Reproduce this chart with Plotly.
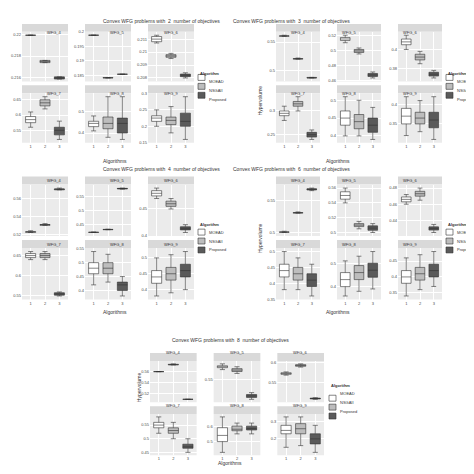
import plotly.graph_objects as go

W = 474
algorithms = ["MOEAD", "NSGAII", "Proposed"]
colors = ["#ffffff", "#bdbdbd", "#5a5a5a"]
facets = ["WFG_4", "WFG_5", "WFG_6", "WFG_7", "WFG_8", "WFG_9"]
titles = ["Convex WFG problems with  2  number of objectives",
          "Convex WFG problems with  3  number of objectives",
          "Convex WFG problems with  4  number of objectives",
          "Convex WFG problems with  6  number of objectives",
          "Convex WFG problems with  8  number of objectives"]

# stats per facet: (lower, q1, median, q3, upper) for MOEAD, NSGAII, Proposed
obj2 = [
    [(0.2199, 0.2199, 0.2199, 0.2199, 0.2199), (0.2175, 0.2174, 0.2175, 0.2176, 0.2176), (0.2160, 0.2159, 0.2160, 0.2161, 0.2161)],
    [(0.1989, 0.1989, 0.1989, 0.1989, 0.1989), (0.1840, 0.1840, 0.1841, 0.1841, 0.1841), (0.1853, 0.1853, 0.1853, 0.1853, 0.1853)],
    [(0.2107, 0.2108, 0.2110, 0.2112, 0.2113), (0.2095, 0.2096, 0.2097, 0.2098, 0.2099), (0.2080, 0.2081, 0.2082, 0.2083, 0.2084)],
    [(0.56, 0.575, 0.585, 0.595, 0.61), (0.62, 0.63, 0.64, 0.65, 0.66), (0.52, 0.535, 0.55, 0.56, 0.58)],
    [(0.41, 0.43, 0.445, 0.455, 0.48), (0.38, 0.42, 0.445, 0.475, 0.57), (0.37, 0.40, 0.445, 0.47, 0.57)],
    [(0.20, 0.215, 0.225, 0.232, 0.25), (0.18, 0.205, 0.218, 0.228, 0.26), (0.16, 0.20, 0.215, 0.24, 0.29)],
]
obj3 = [
    [(0.560, 0.560, 0.561, 0.561, 0.562), (0.520, 0.520, 0.521, 0.521, 0.522), (0.487, 0.487, 0.487, 0.488, 0.488)],
    [(0.510, 0.513, 0.515, 0.517, 0.520), (0.495, 0.497, 0.499, 0.501, 0.503), (0.463, 0.465, 0.467, 0.469, 0.471)],
    [(0.400, 0.405, 0.408, 0.411, 0.415), (0.385, 0.389, 0.392, 0.395, 0.398), (0.370, 0.372, 0.374, 0.376, 0.378)],
    [(0.28, 0.29, 0.295, 0.30, 0.31), (0.30, 0.31, 0.315, 0.32, 0.33), (0.24, 0.245, 0.25, 0.255, 0.26)],
    [(0.40, 0.43, 0.45, 0.47, 0.51), (0.40, 0.42, 0.44, 0.46, 0.50), (0.39, 0.41, 0.43, 0.45, 0.48)],
    [(0.32, 0.35, 0.37, 0.39, 0.42), (0.33, 0.35, 0.365, 0.38, 0.41), (0.31, 0.34, 0.36, 0.38, 0.42)],
]
obj4 = [
    [(0.522, 0.522, 0.523, 0.523, 0.524), (0.530, 0.530, 0.531, 0.531, 0.532), (0.570, 0.570, 0.571, 0.571, 0.572)],
    [(0.420, 0.420, 0.421, 0.421, 0.422), (0.430, 0.430, 0.431, 0.431, 0.432), (0.575, 0.576, 0.577, 0.578, 0.579)],
    [(0.470, 0.475, 0.480, 0.485, 0.490), (0.450, 0.455, 0.460, 0.465, 0.470), (0.405, 0.410, 0.413, 0.416, 0.420)],
    [(0.64, 0.645, 0.65, 0.655, 0.66), (0.64, 0.645, 0.65, 0.655, 0.66), (0.55, 0.552, 0.555, 0.558, 0.56)],
    [(0.42, 0.46, 0.48, 0.50, 0.54), (0.43, 0.46, 0.48, 0.50, 0.53), (0.38, 0.40, 0.42, 0.43, 0.45)],
    [(0.38, 0.42, 0.44, 0.46, 0.50), (0.39, 0.43, 0.45, 0.47, 0.51), (0.40, 0.44, 0.46, 0.48, 0.52)],
]
obj6 = [
    [(0.500, 0.500, 0.501, 0.501, 0.502), (0.530, 0.530, 0.531, 0.531, 0.532), (0.565, 0.566, 0.567, 0.568, 0.569)],
    [(0.540, 0.545, 0.550, 0.555, 0.560), (0.505, 0.508, 0.510, 0.512, 0.515), (0.500, 0.503, 0.506, 0.509, 0.512)],
    [(0.460, 0.463, 0.466, 0.469, 0.472), (0.465, 0.470, 0.473, 0.476, 0.480), (0.425, 0.428, 0.430, 0.432, 0.435)],
    [(0.38, 0.42, 0.44, 0.46, 0.50), (0.38, 0.41, 0.43, 0.45, 0.48), (0.36, 0.39, 0.41, 0.43, 0.46)],
    [(0.36, 0.40, 0.43, 0.46, 0.51), (0.38, 0.43, 0.46, 0.49, 0.53), (0.39, 0.44, 0.47, 0.50, 0.55)],
    [(0.34, 0.38, 0.40, 0.42, 0.46), (0.36, 0.39, 0.41, 0.43, 0.47), (0.37, 0.40, 0.42, 0.44, 0.48)],
]
obj8 = [
    [(0.560, 0.560, 0.560, 0.560, 0.560), (0.572, 0.572, 0.573, 0.573, 0.574), (0.510, 0.510, 0.510, 0.510, 0.510)],
    [(0.570, 0.574, 0.576, 0.578, 0.582), (0.562, 0.566, 0.569, 0.572, 0.576), (0.508, 0.512, 0.515, 0.518, 0.522)],
    [(0.568, 0.570, 0.572, 0.574, 0.576), (0.588, 0.590, 0.592, 0.594, 0.596), (0.508, 0.509, 0.510, 0.511, 0.512)],
    [(0.52, 0.54, 0.55, 0.56, 0.58), (0.50, 0.52, 0.53, 0.54, 0.56), (0.45, 0.465, 0.47, 0.48, 0.50)],
    [(0.43, 0.50, 0.54, 0.59, 0.66), (0.55, 0.57, 0.58, 0.60, 0.62), (0.55, 0.575, 0.585, 0.60, 0.62)],
    [(0.15, 0.23, 0.25, 0.28, 0.33), (0.16, 0.23, 0.26, 0.29, 0.33), (0.12, 0.17, 0.20, 0.23, 0.28)],
]
panels_data = [obj2, obj3, obj4, obj6, obj8]
# (left, top, right, bottom) facet area in px, legend x, has y label
boxes = [(0, 14, 186, 134, 190, False), (254, 14, 434, 134, 438, True),
         (0, 168, 186, 292, 190, False), (254, 168, 434, 292, 438, True),
         (128, 346, 316, 449, 321, True)]

fig = go.Figure()
shapes, annots = [], []
n = 0
def px(x): return x / W
def py(y): return 1 - y / W
font_s = dict(size=4, color="#4d4d4d")

for pi, (data, (l, t, r, b, lx, ylab)) in enumerate(zip(panels_data, boxes)):
    annots.append(dict(x=px((l + r) / 2), y=py(t - 8), xref="paper", yref="paper", text=titles[pi],
                       showarrow=False, font=dict(size=5, color="#333")))
    annots.append(dict(x=px((l + r) / 2), y=py(b + 13), xref="paper", yref="paper", text="Algorithms",
                       showarrow=False, font=dict(size=5, color="#333")))
    if ylab:
        annots.append(dict(x=px(l - 2), y=py((t + b) / 2), xref="paper", yref="paper", text="Hypervolume",
                           textangle=-90, showarrow=False, font=dict(size=5, color="#333")))
    annots.append(dict(x=px(lx), y=py((t + b) / 2 - 14), xref="paper", yref="paper", text="<b>Algorithm</b>",
                       showarrow=False, xanchor="left", font=dict(size=4, color="#333")))
    for k, a in enumerate(algorithms):
        yy = (t + b) / 2 - 6 + k * 9
        shapes.append(dict(type="rect", xref="paper", yref="paper", x0=px(lx), x1=px(lx + 7),
                           y0=py(yy + 3), y1=py(yy - 3), fillcolor=colors[k], line=dict(color="#333", width=0.6)))
        annots.append(dict(x=px(lx + 9), y=py(yy), xref="paper", yref="paper", text=a,
                           showarrow=False, xanchor="left", font=dict(size=4, color="#333")))
    gap = 17
    fw = (r - l - 14 - 2 * gap) / 3
    fh = (b - t - 4) / 2
    for fi, fname in enumerate(facets):
        row, col = divmod(fi, 3)
        x0 = l + 14 + col * (fw + gap)
        x1 = x0 + fw
        y0 = t + row * (fh + 4)
        y1 = y0 + fh
        n += 1
        xa = "x" if n == 1 else f"x{n}"
        ya = "y" if n == 1 else f"y{n}"
        stats = data[fi]
        for k in range(3):
            lo, q1, md, q3, hi = stats[k]
            fig.add_trace(go.Box(x=[k + 1], q1=[q1], median=[md], q3=[q3], lowerfence=[lo], upperfence=[hi],
                                 fillcolor=colors[k], line=dict(color="#333", width=0.6), width=0.7,
                                 xaxis=xa, yaxis=ya, showlegend=False, name=algorithms[k]))
        lo = min(s[0] for s in stats); hi = max(s[4] for s in stats)
        pad = (hi - lo) * 0.08 + 1e-6
        fig.layout["xaxis" if n == 1 else f"xaxis{n}"] = dict(
            domain=[px(x0), px(x1)], anchor=ya, range=[0.4, 3.6], tickvals=[1, 2, 3], ticktext=["1", "2", "3"],
            tickfont=font_s, showgrid=True, gridcolor="white", zeroline=False, showline=False,
            showticklabels=(row == 1), ticklen=1)
        fig.layout["yaxis" if n == 1 else f"yaxis{n}"] = dict(
            domain=[py(y1), py(y0 + 8)], anchor=xa, range=[lo - pad, hi + pad], nticks=4,
            tickfont=font_s, gridcolor="white", zeroline=False, ticklen=1)
        shapes.append(dict(type="rect", xref="paper", yref="paper", x0=px(x0), x1=px(x1), y0=py(y0 + 8), y1=py(y0),
                           fillcolor="#d9d9d9", line=dict(width=0), layer="below"))
        shapes.append(dict(type="rect", xref="paper", yref="paper", x0=px(x0), x1=px(x1), y0=py(y1), y1=py(y0 + 8),
                           fillcolor="#ebebeb", line=dict(width=0), layer="below"))
        annots.append(dict(x=px((x0 + x1) / 2), y=py(y0 + 4), xref="paper", yref="paper", text=fname,
                           showarrow=False, font=dict(size=4, color="#333")))

fig.update_layout(width=W, height=W, margin=dict(l=0, r=0, t=0, b=0), plot_bgcolor="rgba(0,0,0,0)",
                  paper_bgcolor="white", shapes=shapes, annotations=annots, font=dict(family="Liberation Sans"))
fig.write_html("out.html")
